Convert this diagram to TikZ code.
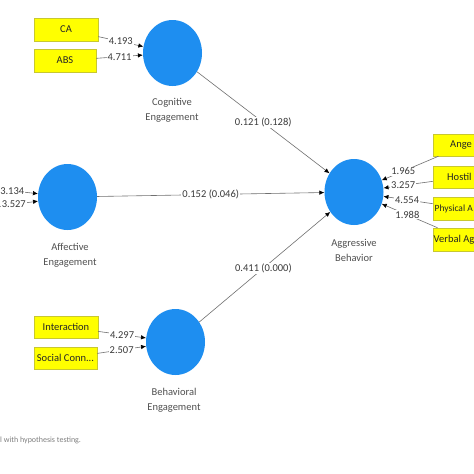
\documentclass[tikz,border=0pt]{standalone}
\usepackage{fontspec}
\setmainfont{Carlito}
\usetikzlibrary{shapes.geometric,arrows.meta}
\definecolor{circ}{HTML}{1E8EF0}
\definecolor{yel}{HTML}{FFFF00}
\definecolor{yelb}{HTML}{C8C830}
\definecolor{labgray}{HTML}{3A3A3A}
\definecolor{namegray}{HTML}{505050}
\definecolor{linegray}{HTML}{707070}
\tikzset{
  lv/.style={ellipse, fill=circ, draw=none, minimum width=59pt, minimum height=66pt, inner sep=0pt},
  ind/.style={rectangle, fill=yel, draw=yelb, line width=0.5pt, minimum width=64pt, minimum height=23pt, inner sep=1pt, font=\fontsize{10.5}{12}\selectfont, text=black!85},
  indtext/.style={anchor=west, inner sep=0pt, font=\fontsize{10.5}{12}\selectfont, text=black!85},
  lvname/.style={align=center, font=\fontsize{10.5}{15}\selectfont, text=namegray},
  wt/.style={fill=white, inner sep=1pt, font=\fontsize{10.5}{12}\selectfont, text=labgray},
  arr/.style={draw=linegray, line width=0.6pt, -{Latex[length=5pt,width=4.5pt,color=black]}},
}
\begin{document}
\begin{tikzpicture}[x=1pt,y=-1pt]
\useasboundingbox (0,0) rectangle (474,474);
\fill[white] (0,0) rectangle (474,474);
\clip (0,0) rectangle (474,474);
% latent variables
\node[lv] (cog) at (172.5,53) {};
\node[lv] (aff) at (67.5,197) {};
\node[lv] (beh) at (175.5,342) {};
\node[lv] (agg) at (354,192) {};
\node[lvname] (cogn) at (172,110) {Cognitive\\Engagement};
\node[lvname] (affn) at (70,255) {Affective\\Engagement};
\node[lvname] (behn) at (174,400) {Behavioral\\Engagement};
\node[lvname] (aggn) at (354,250) {Aggressive\\Behavior};
% indicators
\node[ind] (ca) at (66,29.5) {CA};
\node[ind, minimum width=62pt] (abs) at (65,60.5) {ABS};
\node[ind, minimum height=22pt] (inter) at (66,327) {Interaction};
\node[ind, minimum width=63pt, minimum height=22pt] (soc) at (65.5,358) {Social Conn...};
\node[ind, minimum height=22pt] (ang) at (465,145) {};
\node[ind, minimum height=22pt] (hos) at (465,177) {};
\node[ind] (phy) at (465,208.5) {};
\node[ind] (ver) at (465,239.5) {};
\node[indtext] (angt) at (450,145) {Ange};
\node[indtext] (host) at (447,177) {Hostil};
\node[indtext, font=\fontsize{9.5}{12}\selectfont] (phyt) at (434.5,208.5) {Physical A};
\node[indtext] (vert) at (433.5,239.5) {Verbal Ag};
\coordinate (a1) at (-40,185);
\coordinate (a2) at (-40,212);
% structural paths
\draw[arr] (cog) -- node[wt,pos=0.5] {0.121 (0.128)} (agg);
\draw[arr] (aff) -- node[wt,pos=0.5] {0.152 (0.046)} (agg);
\draw[arr] (beh) -- node[wt,pos=0.49] {0.411 (0.000)} (agg);
% measurement paths
\draw[arr] (ca) -- node[wt] {4.193} (cog);
\draw[arr] (abs) -- node[wt] {4.711} (cog);
\draw[arr] (a1) -- node[wt,pos=0.67] {3.134} (aff);
\draw[arr] (a2) -- node[wt,pos=0.69] {3.527} (aff);
\draw[arr] (inter) -- node[wt] {4.297} (beh);
\draw[arr] (soc) -- node[wt] {2.507} (beh);
\draw[arr] (ang) -- node[wt,pos=0.62] {1.965} (agg);
\draw[arr] (hos) -- node[wt,pos=0.6] {3.257} (agg);
\draw[arr] (phy) -- node[wt,pos=0.52] {4.554} (agg);
\draw[arr] (ver) -- node[wt,pos=0.54] {1.988} (agg);
% caption fragment
\node[anchor=west, font=\fontsize{8}{10}\selectfont, text=black!50, inner sep=0pt] (cap) at (0,440) {l with hypothesis testing.};
\end{tikzpicture}
\end{document}
